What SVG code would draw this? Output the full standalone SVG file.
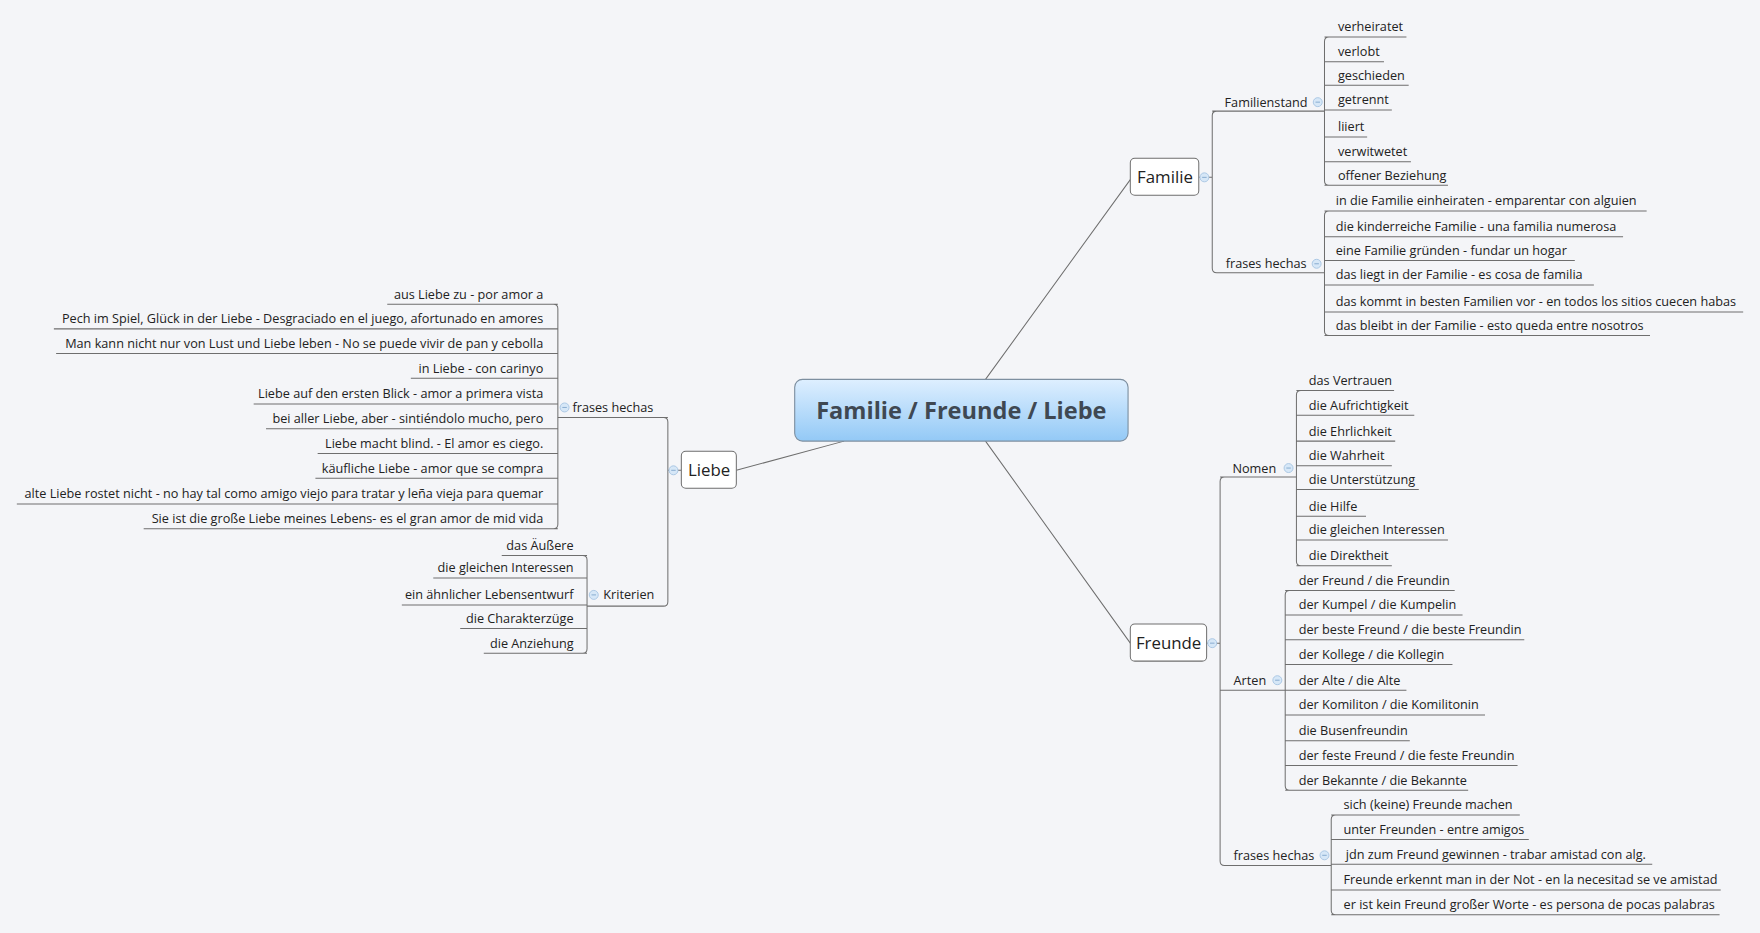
<svg xmlns="http://www.w3.org/2000/svg" width="1760" height="933" viewBox="0 0 1760 933">
<defs>
<linearGradient id="cg" x1="0" y1="0" x2="0" y2="1"><stop offset="0" stop-color="#deefff"/><stop offset="1" stop-color="#93c9f6"/></linearGradient>
<style>
text{font-family:"Open Sans","Noto Sans",sans-serif;font-size:11.3px;fill:#222}
.e{text-anchor:end}
.l{fill:none;stroke:#6e6e6e;stroke-width:0.9}
.box{fill:#fff;stroke:#6e6e6e;stroke-width:0.9}
.m{font-size:15px}
.c{fill:#d6e7f7;stroke:#a5c4e2;stroke-width:0.8}
.cm{stroke:#7fa6cc;stroke-width:0.8}
</style>
</defs>
<rect width="1760" height="933" fill="#f4f5f8"/>
<g transform="scale(1.12245)">
<g id="connectors">
<path class="l" d="M878,338 L1007,160 M878,393 L1007,573 M752,393 L656,419"/>
<path class="l" d="M1068,158 H1080 M1084,99 Q1080,99 1080,103 V239 Q1080,243 1084,243 H1180 M1080,99 H1180"/>
<path class="l" d="M1184,33 Q1180,33 1180,37 V161 Q1180,165 1184,165 M1180,33 H1253 M1180,55 H1233 M1180,76 H1255 M1180,98 H1240 M1180,122 H1218 M1180,144 H1257 M1180,165 H1290"/>
<path class="l" d="M1184,188 Q1180,188 1180,192 V295 Q1180,299 1184,299 M1180,188 H1467 M1180,211 H1446 M1180,232 H1403 M1180,254 H1420 M1180,278 H1553 M1180,299 H1470"/>
<path class="l" d="M1075,573 H1087 M1091,425 Q1087,425 1087,429 V767 Q1087,771 1091,771 H1186 M1087,425 H1155 M1087,615 H1145"/>
<path class="l" d="M1159,348 Q1155,348 1155,352 V500 Q1155,504 1159,504 M1155,348 H1242 M1155,370 H1260 M1155,393 H1243 M1155,415 H1240 M1155,436 H1264 M1155,460 H1217 M1155,481 H1290 M1155,504 H1240"/>
<path class="l" d="M1149,526 Q1145,526 1145,530 V700 Q1145,704 1149,704 M1145,526 H1296 M1145,548 H1303 M1145,570 H1358 M1145,592 H1294 M1145,615 H1253 M1145,637 H1323 M1145,660 H1256 M1145,682 H1352 M1145,704 H1308"/>
<path class="l" d="M1190,726 Q1186,726 1186,730 V811 Q1186,815 1190,815 M1186,726 H1354 M1186,748 H1362 M1186,770 H1472 M1186,793 H1533 M1186,815 H1532"/>
<path class="l" d="M607,419 H595 M591,372 Q595,372 595,376 V536 Q595,540 591,540 H523 M595,372 H497"/>
<path class="l" d="M493,271 Q497,271 497,275 V467 Q497,471 493,471 M497,271 H345 M497,293 H48 M497,315 H50 M497,337 H366 M497,360 H226 M497,382 H237 M497,404 H283 M497,426 H281 M497,449 H15 M497,471 H128"/>
<path class="l" d="M519,495 Q523,495 523,499 V578 Q523,582 519,582 M523,495 H447 M523,515 H386 M523,539 H358 M523,560 H410 M523,582 H431"/>
</g>
<g id="central"><rect x="708" y="338" width="297" height="55" rx="7" fill="url(#cg)" stroke="#7d8fa0"/><text x="856.5" y="373" text-anchor="middle" style="font-size:21px;font-weight:bold;fill:#3f4852">Familie / Freunde / Liebe</text></g>
<g id="familie"><rect class="box" x="1007" y="141" width="61" height="33" rx="4"/><text class="m" x="1013" y="163">Familie</text><circle class="c" cx="1073" cy="158" r="4"/><path class="cm" d="M1071,158 H1075"/></g>
<g id="freunde"><rect class="box" x="1007" y="556" width="68" height="33" rx="4"/><text class="m" x="1012" y="578">Freunde</text><circle class="c" cx="1080" cy="573" r="4"/><path class="cm" d="M1078,573 H1082"/></g>
<g id="liebe"><rect class="box" x="607" y="402" width="49" height="33" rx="4"/><text class="m" x="613" y="424">Liebe</text><circle class="c" cx="600" cy="419" r="4"/><path class="cm" d="M598,419 H602"/></g>
<g id="familienstand"><text x="1091" y="95">Familienstand</text><circle class="c" cx="1174" cy="91" r="4"/><path class="cm" d="M1172,91 H1176"/>
<text x="1192" y="28">verheiratet</text><text x="1192" y="50">verlobt</text><text x="1192" y="71">geschieden</text><text x="1192" y="93">getrennt</text><text x="1192" y="117">liiert</text><text x="1192" y="139">verwitwetet</text><text x="1192" y="160">offener Beziehung</text></g>
<g id="familie-frases"><text x="1092" y="239">frases hechas</text><circle class="c" cx="1173" cy="235" r="4"/><path class="cm" d="M1171,235 H1175"/>
<text x="1190" y="183">in die Familie einheiraten - emparentar con alguien</text><text x="1190" y="206">die kinderreiche Familie - una familia numerosa</text><text x="1190" y="227">eine Familie gründen - fundar un hogar</text><text x="1190" y="249">das liegt in der Familie - es cosa de familia</text><text x="1190" y="273">das kommt in besten Familien vor - en todos los sitios cuecen habas</text><text x="1190" y="294">das bleibt in der Familie - esto queda entre nosotros</text></g>
<g id="nomen"><text x="1098" y="421">Nomen</text><circle class="c" cx="1148" cy="417" r="4"/><path class="cm" d="M1146,417 H1150"/>
<text x="1166" y="343">das Vertrauen</text><text x="1166" y="365">die Aufrichtigkeit</text><text x="1166" y="388">die Ehrlichkeit</text><text x="1166" y="410">die Wahrheit</text><text x="1166" y="431">die Unterstützung</text><text x="1166" y="455">die Hilfe</text><text x="1166" y="476">die gleichen Interessen</text><text x="1166" y="499">die Direktheit</text></g>
<g id="arten"><text x="1099" y="610">Arten</text><circle class="c" cx="1138" cy="606" r="4"/><path class="cm" d="M1136,606 H1140"/>
<text x="1157" y="521">der Freund / die Freundin</text><text x="1157" y="543">der Kumpel / die Kumpelin</text><text x="1157" y="565">der beste Freund / die beste Freundin</text><text x="1157" y="587">der Kollege / die Kollegin</text><text x="1157" y="610">der Alte / die Alte</text><text x="1157" y="632">der Komiliton / die Komilitonin</text><text x="1157" y="655">die Busenfreundin</text><text x="1157" y="677">der feste Freund / die feste Freundin</text><text x="1157" y="699">der Bekannte / die Bekannte</text></g>
<g id="freunde-frases"><text x="1099" y="766">frases hechas</text><circle class="c" cx="1180" cy="762" r="4"/><path class="cm" d="M1178,762 H1182"/>
<text x="1197" y="721">sich (keine) Freunde machen</text><text x="1197" y="743">unter Freunden - entre amigos</text><text x="1199" y="765">jdn zum Freund gewinnen - trabar amistad con alg.</text><text x="1197" y="788">Freunde erkennt man in der Not - en la necesitad se ve amistad</text><text x="1197" y="810">er ist kein Freund großer Worte - es persona de pocas palabras</text></g>
<g id="liebe-frases"><text class="e" x="582" y="367">frases hechas</text><circle class="c" cx="503" cy="363" r="4"/><path class="cm" d="M501,363 H505"/>
<text class="e" x="484" y="266">aus Liebe zu - por amor a</text><text class="e" x="484" y="288">Pech im Spiel, Glück in der Liebe - Desgraciado en el juego, afortunado en amores</text><text class="e" x="484" y="310">Man kann nicht nur von Lust und Liebe leben - No se puede vivir de pan y cebolla</text><text class="e" x="484" y="332">in Liebe - con carinyo</text><text class="e" x="484" y="355">Liebe auf den ersten Blick - amor a primera vista</text><text class="e" x="484" y="377">bei aller Liebe, aber - sintiéndolo mucho, pero</text><text class="e" x="484" y="399">Liebe macht blind. - El amor es ciego.</text><text class="e" x="484" y="421">käufliche Liebe - amor que se compra</text><text class="e" x="484" y="444">alte Liebe rostet nicht - no hay tal como amigo viejo para tratar y leña vieja para quemar</text><text class="e" x="484" y="466">Sie ist die große Liebe meines Lebens- es el gran amor de mid vida</text></g>
<g id="kriterien"><text class="e" x="583" y="534">Kriterien</text><circle class="c" cx="529" cy="530" r="4"/><path class="cm" d="M527,530 H531"/>
<text class="e" x="511" y="490">das Äußere</text><text class="e" x="511" y="510">die gleichen Interessen</text><text class="e" x="511" y="534">ein ähnlicher Lebensentwurf</text><text class="e" x="511" y="555">die Charakterzüge</text><text class="e" x="511" y="577">die Anziehung</text></g>
</g>
</svg>
